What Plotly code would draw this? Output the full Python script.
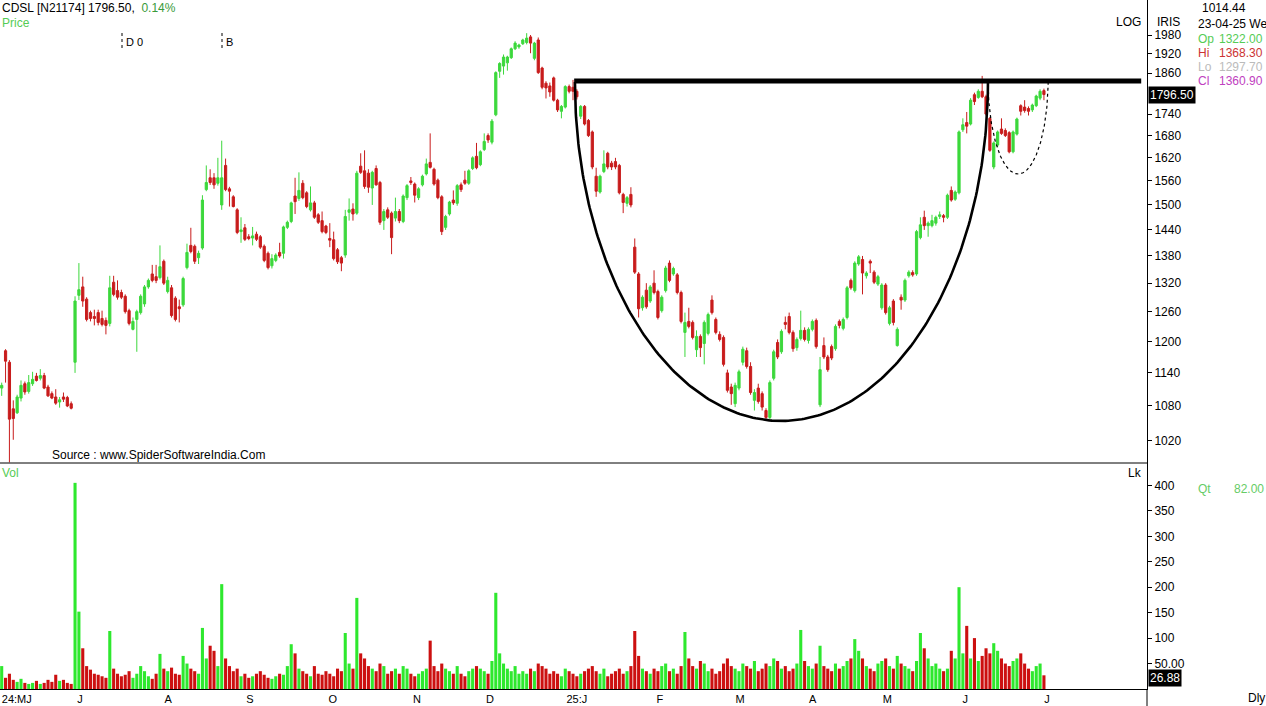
import numpy as np
import plotly.graph_objects as go

# ---------------- data ----------------
opens = [
    1112, 1182, 1160, 1075, 1068, 1094, 1120, 1106, 1120, 1134,
    1130, 1135, 1114, 1102, 1096, 1087, 1096, 1095, 1084, 1160,
    1294, 1312, 1286, 1258, 1250, 1258, 1246, 1242, 1236, 1322,
    1304, 1300, 1292, 1262, 1224, 1244, 1258, 1276, 1312, 1340,
    1334, 1332, 1368, 1302, 1310, 1288, 1270, 1274, 1354, 1404,
    1402, 1376, 1398, 1538, 1568, 1568, 1554, 1500, 1600, 1540,
    1520, 1488, 1436, 1445, 1424, 1421, 1430, 1424, 1402, 1386,
    1358, 1370, 1388, 1386, 1446, 1460, 1522, 1516, 1554, 1530,
    1488, 1505, 1476, 1462, 1449, 1420, 1417, 1394, 1376, 1382,
    1482, 1490, 1480, 1598, 1586, 1580, 1542, 1592, 1556, 1462,
    1488, 1480, 1468, 1484, 1460, 1518, 1560, 1552, 1518, 1550,
    1578, 1608, 1590, 1562, 1520, 1446, 1478, 1512, 1504, 1550,
    1562, 1554, 1592, 1624, 1602, 1642, 1680, 1662, 1738, 1866,
    1882, 1892, 1908, 1936, 1942, 1952, 1956, 1974, 1906, 1964,
    1876, 1830, 1822, 1846, 1780, 1748, 1760, 1820, 1818, 1806,
    1734, 1762, 1722, 1690, 1572, 1532, 1584, 1632, 1606, 1610,
    1600, 1526, 1504, 1526, 1400, 1340, 1268, 1305, 1282, 1320,
    1302, 1262, 1304, 1364, 1340, 1338, 1300, 1218, 1240, 1238,
    1184, 1210, 1196, 1216, 1284, 1244, 1214, 1208, 1140, 1114,
    1084, 1112, 1160, 1182, 1152, 1090, 1112, 1102, 1072, 1060,
    1130, 1198, 1180, 1238, 1250, 1218, 1188, 1206, 1222, 1202,
    1224, 1242, 1082, 1192, 1170, 1190, 1186, 1240, 1226, 1248,
    1326, 1304, 1362, 1372, 1336, 1368, 1344, 1318, 1268, 1316,
    1236, 1282, 1192, 1290, 1284, 1336, 1343, 1340, 1422, 1470,
    1450, 1450, 1456, 1472, 1474, 1470, 1536, 1514, 1530, 1696,
    1716, 1712, 1796, 1788, 1806, 1790, 1728, 1596, 1654, 1698,
    1694, 1688, 1636, 1684, 1764, 1760, 1756, 1752, 1764, 1786,
    1808,
]
highs = [
    1122, 1185, 1164, 1090, 1100, 1126, 1124, 1136, 1142, 1140,
    1147, 1140, 1118, 1106, 1110, 1096, 1104, 1098, 1088, 1292,
    1364, 1334, 1290, 1262, 1264, 1264, 1262, 1248, 1336, 1336,
    1326, 1306, 1296, 1266, 1248, 1264, 1296, 1316, 1330, 1360,
    1360, 1404, 1372, 1334, 1316, 1292, 1285, 1334, 1408, 1445,
    1406, 1392, 1524, 1600, 1590, 1580, 1620, 1666, 1618, 1545,
    1524, 1492, 1470, 1454, 1430, 1447, 1436, 1428, 1406, 1390,
    1384, 1386, 1410, 1450, 1462, 1508, 1568, 1582, 1562, 1534,
    1546, 1510, 1480, 1484, 1452, 1456, 1436, 1398, 1380, 1488,
    1516, 1504, 1586, 1632, 1640, 1590, 1586, 1600, 1560, 1490,
    1494, 1484, 1518, 1490, 1526, 1552, 1570, 1556, 1544, 1576,
    1618, 1686, 1594, 1566, 1524, 1476, 1510, 1536, 1552, 1556,
    1586, 1590, 1624, 1660, 1640, 1686, 1686, 1726, 1866, 1894,
    1918, 1914, 1940, 1960, 1952, 1968, 1986, 1980, 1958, 1972,
    1880, 1836, 1832, 1850, 1784, 1766, 1824, 1826, 1840, 1812,
    1766, 1766, 1726, 1694, 1594, 1576, 1640, 1636, 1612, 1620,
    1604, 1530, 1522, 1544, 1420, 1344, 1294, 1320, 1316, 1348,
    1306, 1294, 1358, 1370, 1356, 1342, 1304, 1258, 1268, 1242,
    1222, 1214, 1242, 1258, 1294, 1248, 1220, 1212, 1146, 1120,
    1122, 1146, 1190, 1188, 1160, 1110, 1120, 1106, 1076, 1126,
    1184, 1204, 1224, 1250, 1258, 1222, 1208, 1262, 1228, 1228,
    1244, 1246, 1170, 1208, 1174, 1194, 1234, 1244, 1248, 1314,
    1330, 1368, 1382, 1380, 1346, 1372, 1348, 1338, 1320, 1320,
    1272, 1286, 1228, 1296, 1330, 1348, 1348, 1440, 1470, 1486,
    1460, 1476, 1474, 1484, 1478, 1528, 1546, 1536, 1694, 1728,
    1746, 1786, 1802, 1812, 1852, 1796, 1732, 1664, 1694, 1728,
    1700, 1692, 1694, 1730, 1768, 1780, 1762, 1770, 1796, 1812,
    1814,
]
lows = [
    1098, 1122, 985, 1022, 1066, 1088, 1100, 1102, 1116, 1124,
    1126, 1110, 1096, 1092, 1082, 1077, 1087, 1078, 1074, 1140,
    1284, 1270, 1240, 1240, 1232, 1232, 1230, 1214, 1230, 1292,
    1285, 1286, 1256, 1232, 1222, 1180, 1254, 1270, 1308, 1322,
    1320, 1328, 1316, 1298, 1248, 1240, 1238, 1270, 1350, 1386,
    1362, 1362, 1394, 1534, 1550, 1540, 1548, 1488, 1534, 1496,
    1494, 1430, 1410, 1414, 1416, 1404, 1414, 1396, 1366, 1350,
    1352, 1366, 1376, 1374, 1442, 1456, 1478, 1510, 1514, 1492,
    1484, 1466, 1454, 1432, 1430, 1400, 1370, 1362, 1346, 1376,
    1462, 1462, 1476, 1578, 1540, 1530, 1500, 1548, 1452, 1440,
    1466, 1384, 1460, 1456, 1456, 1512, 1550, 1506, 1512, 1546,
    1574, 1592, 1548, 1514, 1428, 1440, 1474, 1500, 1498, 1532,
    1550, 1550, 1588, 1590, 1598, 1638, 1660, 1656, 1734, 1846,
    1856, 1868, 1904, 1932, 1936, 1948, 1950, 1922, 1900, 1858,
    1812, 1785, 1790, 1776, 1746, 1728, 1756, 1800, 1780, 1782,
    1726, 1708, 1676, 1590, 1520, 1528, 1580, 1590, 1588, 1590,
    1526, 1480, 1496, 1494, 1340, 1248, 1262, 1266, 1278, 1296,
    1244, 1258, 1300, 1322, 1336, 1296, 1236, 1170, 1226, 1204,
    1170, 1170, 1156, 1212, 1254, 1214, 1200, 1152, 1104, 1082,
    1078, 1108, 1154, 1148, 1100, 1072, 1084, 1072, 1054, 1056,
    1126, 1166, 1176, 1224, 1214, 1180, 1182, 1202, 1200, 1196,
    1220, 1186, 1078, 1166, 1142, 1164, 1182, 1226, 1222, 1244,
    1306, 1300, 1358, 1296, 1330, 1342, 1318, 1314, 1264, 1254,
    1232, 1232, 1190, 1264, 1280, 1332, 1334, 1336, 1418, 1440,
    1424, 1446, 1450, 1466, 1458, 1466, 1508, 1510, 1526, 1690,
    1686, 1708, 1766, 1784, 1786, 1736, 1636, 1590, 1648, 1682,
    1676, 1632, 1632, 1680, 1736, 1744, 1736, 1746, 1760, 1780,
    1780,
]
closes = [
    1117, 1162, 1057, 1058, 1096, 1117, 1105, 1122, 1128, 1126,
    1135, 1112, 1098, 1094, 1085, 1091, 1092, 1080, 1076, 1282,
    1306, 1282, 1244, 1246, 1246, 1238, 1234, 1232, 1310, 1296,
    1290, 1290, 1260, 1236, 1240, 1260, 1292, 1312, 1326, 1326,
    1326, 1356, 1320, 1326, 1252, 1244, 1266, 1330, 1388, 1390,
    1368, 1386, 1512, 1556, 1556, 1550, 1568, 1568, 1538, 1534,
    1496, 1434, 1440, 1418, 1420, 1426, 1418, 1400, 1370, 1354,
    1374, 1382, 1380, 1447, 1458, 1505, 1508, 1536, 1518, 1496,
    1505, 1470, 1458, 1436, 1434, 1416, 1374, 1367, 1364, 1472,
    1488, 1478, 1580, 1582, 1546, 1544, 1582, 1550, 1458, 1484,
    1470, 1422, 1484, 1462, 1522, 1548, 1556, 1524, 1540, 1572,
    1604, 1595, 1552, 1518, 1436, 1472, 1507, 1505, 1548, 1538,
    1554, 1586, 1620, 1594, 1636, 1664, 1668, 1720, 1862, 1890,
    1910, 1910, 1936, 1954, 1948, 1964, 1970, 1954, 1954, 1862,
    1818, 1816, 1804, 1780, 1752, 1762, 1820, 1806, 1806, 1790,
    1762, 1712, 1680, 1596, 1534, 1572, 1604, 1596, 1596, 1596,
    1530, 1506, 1518, 1500, 1344, 1266, 1290, 1270, 1312, 1300,
    1248, 1290, 1353, 1326, 1352, 1300, 1240, 1238, 1230, 1208,
    1210, 1188, 1238, 1254, 1258, 1218, 1204, 1156, 1108, 1102,
    1117, 1142, 1185, 1152, 1104, 1104, 1088, 1078, 1060, 1122,
    1180, 1170, 1220, 1234, 1218, 1186, 1204, 1222, 1204, 1224,
    1240, 1190, 1146, 1170, 1146, 1168, 1230, 1232, 1244, 1310,
    1310, 1364, 1378, 1342, 1342, 1364, 1322, 1334, 1316, 1258,
    1268, 1238, 1224, 1284, 1326, 1344, 1338, 1436, 1452, 1450,
    1456, 1462, 1470, 1476, 1470, 1524, 1512, 1532, 1690, 1710,
    1706, 1780, 1776, 1806, 1790, 1740, 1640, 1660, 1690, 1686,
    1680, 1636, 1690, 1726, 1748, 1750, 1748, 1766, 1792, 1806,
    1796.5,
]
volumes = [
    45, 22, 30, 18, 14, 20, 12, 10, 12, 16,
    10, 12, 18, 14, 28, 16, 18, 12, 10, 405,
    152, 80, 45, 38, 30, 28, 25, 22, 114, 40,
    30, 25, 28, 35, 22, 30, 45, 35, 25, 20,
    30, 69, 40, 35, 42, 30, 28, 65, 50, 40,
    35, 30, 120, 60, 85, 75, 45, 206, 60, 45,
    35, 40, 25, 30, 22, 25, 30, 35, 28, 22,
    20, 25, 30, 28, 45, 88, 70, 40, 35, 30,
    25, 45, 30, 28, 35, 30, 25, 40, 35, 110,
    50, 40, 179, 70, 60, 45, 40, 35, 50, 45,
    30, 35, 40, 30, 45, 40, 30, 25, 30, 35,
    40, 95, 45, 35, 50, 40, 35, 30, 45, 30,
    25, 35, 40, 45, 40, 35, 30, 55, 189, 70,
    50, 40, 35, 45, 30, 35, 30, 40, 35, 50,
    45, 40, 30, 35, 30, 25, 40, 35, 30, 25,
    30, 35, 40, 45, 35, 30, 40, 25, 30, 35,
    40, 30, 35, 45, 114, 65, 40, 35, 30, 40,
    35, 45, 50, 35, 40, 30, 45, 112, 60, 45,
    40, 55, 50, 35, 40, 30, 35, 50, 60, 45,
    40, 35, 50, 45, 40, 55, 35, 40, 50, 45,
    60, 55, 40, 45, 35, 40, 50, 116, 55, 45,
    40, 50, 85, 45, 40, 35, 50, 40, 45, 55,
    60, 98, 75, 60, 45, 40, 35, 50, 55, 60,
    45, 40, 65, 50, 45, 40, 35, 55, 110, 80,
    60, 45, 50, 40, 35, 40, 75, 60, 200, 70,
    124, 60, 100, 55, 65, 80, 70, 90, 75, 60,
    50, 45, 55, 60, 70, 50, 40, 35, 45, 50, 26.88,
]
month_labels = ["24:MJ", "J", "A", "S", "O", "N", "D", "25:J",
                "F", "M", "A", "M", "J", "J"]
month_tick_pos = [3.9, 20.3, 43.1, 64.3, 85.8, 107.6, 126.5, 149.0,
                  170.5, 191.3, 210.1, 229.4, 249.6, 270.8]
price_ticks = [1020, 1080, 1140, 1200, 1260, 1320, 1380, 1440, 1500,
               1560, 1620, 1680, 1740, 1860, 1920, 1980]
vol_ticks = [50, 100, 150, 200, 250, 300, 350, 400]
vol_tick_text = ["50.00", "100", "150", "200", "250", "300", "350", "400"]

# drawn pattern (cup & handle + resistance)
resistance_level = 1837
resistance_span = (148.3, 295.2)
cup = dict(cx=202.0, a=53.5, rim=1834, depth=0.554)
handle = dict(cx=263.3, a=7.8, rim=1842, depth=0.155)

n = len(closes)
assert len(opens) == len(highs) == len(lows) == n == len(volumes), (
    len(opens), len(highs), len(lows), n, len(volumes))
idx = list(range(n))

GREEN = "#3cd83c"
RED = "#c81c1c"
VGREEN = "#2ee82e"
VRED = "#cc1010"
FONT = "Liberation Sans"

W, H = 1266, 706
PR, PB, SPLIT = 1147, 689, 463


def px(x):
    return x / PR


def py(y):
    return 1 - y / PB


fig = go.Figure()
fig.add_trace(go.Candlestick(
    x=idx, open=opens, high=highs, low=lows, close=closes,
    increasing=dict(line=dict(color=GREEN, width=1), fillcolor=GREEN),
    decreasing=dict(line=dict(color=RED, width=1), fillcolor=RED),
    whiskerwidth=0, hoverinfo="skip", showlegend=False,
    xaxis="x", yaxis="y"))

vcolors = [VGREEN if c >= o else VRED for o, c in zip(opens, closes)]
fig.add_trace(go.Bar(x=idx, y=volumes, marker=dict(color=vcolors, line=dict(width=0)),
                     hoverinfo="skip", showlegend=False, xaxis="x", yaxis="y2"))

# resistance line
fig.add_trace(go.Scatter(x=list(resistance_span), y=[resistance_level] * 2,
                         mode="lines", line=dict(color="black", width=5),
                         hoverinfo="skip", showlegend=False, yaxis="y"))


def arc(p, width, dash):
    th = np.linspace(0, np.pi, 240)
    xs = p["cx"] - p["a"] * np.cos(th)
    ys = p["rim"] * np.exp(-p["depth"] * np.sin(th))
    return go.Scatter(x=xs, y=ys, mode="lines",
                      line=dict(color="black", width=width, dash=dash),
                      hoverinfo="skip", showlegend=False, yaxis="y")


fig.add_trace(arc(cup, 2.6, "solid"))
fig.add_trace(arc(handle, 1.2, "dot"))

y_lo = 983.9
y_hi = 2096.6

annotations = []


def txt(x, y, s, color="black", size=12, xanchor="left", bg=None):
    d = dict(x=px(x), y=py(y), xref="paper", yref="paper", text=s,
             showarrow=False, xanchor=xanchor, yanchor="middle",
             font=dict(family=FONT, size=size, color=color))
    if bg:
        d.update(bgcolor=bg, borderpad=1)
    annotations.append(d)


txt(0, 8, "CDSL [N21174] 1796.50,  <span style='color:#3a9a3a'>0.14%</span>")
txt(0, 23, "Price", color="#55cc55")
txt(124, 42, "D 0", size=11)
txt(224, 42, "B", size=11)
txt(50, 455, "Source : www.SpiderSoftwareIndia.Com")
txt(1143, 22, "LOG", xanchor="right")
txt(1155, 22, "IRIS")
txt(1200, 8, "1014.44")
txt(1196, 24, "23-04-25 We")
txt(1196, 39, "Op", color="#55cc55")
txt(1217, 39, "1322.00", color="#55cc55")
txt(1196, 53, "Hi", color="#cc3333")
txt(1217, 53, "1368.30", color="#cc3333")
txt(1196, 67, "Lo", color="#bbbbbb")
txt(1217, 67, "1297.70", color="#bbbbbb")
txt(1196, 81, "Cl", color="#c040c0")
txt(1217, 81, "1360.90", color="#c040c0")
txt(1148, 95, "1796.50", color="white", bg="black")
txt(0, 473, "Vol", color="#55cc55")
txt(1126, 473, "Lk")
txt(1196, 489, "Qt", color="#66cc66")
txt(1232, 489, "82.00", color="#66cc66")
txt(1148, 678, "26.88", color="white", bg="black")
txt(1246, 698, "Dly")

shapes = [
    dict(type="line", xref="paper", yref="paper", x0=0, x1=1, y0=py(SPLIT), y1=py(SPLIT),
         line=dict(color="black", width=1)),
    dict(type="line", xref="paper", yref="paper", x0=1, x1=1, y0=py(H), y1=0,
         line=dict(color="black", width=1)),
    dict(type="line", xref="paper", yref="paper", x0=px(122), x1=px(122), y0=py(33), y1=py(51),
         line=dict(color="black", width=1, dash="dot")),
    dict(type="line", xref="paper", yref="paper", x0=px(222), x1=px(222), y0=py(33), y1=py(51),
         line=dict(color="black", width=1, dash="dot")),
]

fig.update_layout(
    width=W, height=H,
    margin=dict(l=0, r=W - PR, t=0, b=H - PB),
    paper_bgcolor="white", plot_bgcolor="white",
    showlegend=False, hovermode=False,
    boxgap=0.4, boxgroupgap=0.05, bargap=0.2,
    annotations=annotations, shapes=shapes,
    xaxis=dict(domain=[0, 1], anchor="y2", range=[-0.44, 296.7],
               rangeslider=dict(visible=False),
               showgrid=False, zeroline=False, showline=True, linecolor="black", linewidth=1,
               tickmode="array", tickvals=month_tick_pos, ticktext=month_labels,
               ticks="", tickfont=dict(family=FONT, size=11, color="black")),
    yaxis=dict(domain=[py(SPLIT), 1], type="log",
               range=[np.log10(y_lo), np.log10(y_hi)], side="right", anchor="x",
               showgrid=False, zeroline=False, showline=True, linecolor="black", linewidth=1,
               tickmode="array", tickvals=price_ticks,
               ticktext=[str(v) for v in price_ticks],
               ticks="outside", ticklen=4, tickcolor="black",
               tickfont=dict(family=FONT, size=12, color="black")),
    yaxis2=dict(domain=[0, py(SPLIT)], range=[0, 444], side="right", anchor="x",
                showgrid=False, zeroline=False, showline=True, linecolor="black", linewidth=1,
                tickmode="array", tickvals=vol_ticks, ticktext=vol_tick_text,
                ticks="outside", ticklen=4, tickcolor="black",
                tickfont=dict(family=FONT, size=12, color="black")),
)

fig.write_html("out.html", config={"displayModeBar": False, "staticPlot": True},
               post_script="document.body.style.margin='0px';document.body.style.overflow='hidden';")
